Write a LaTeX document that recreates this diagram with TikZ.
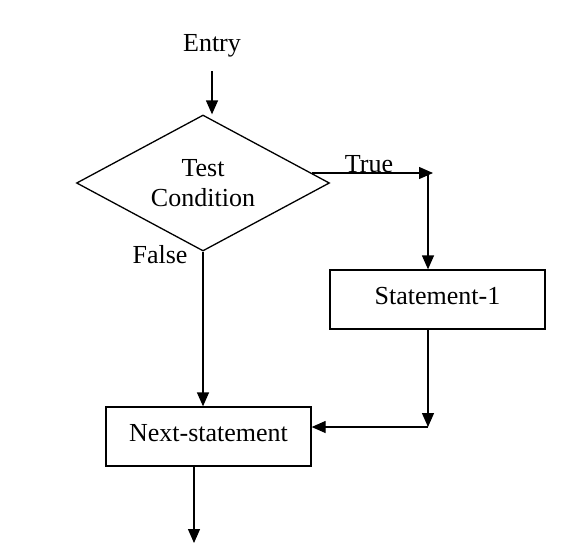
\documentclass[tikz,border=0pt]{standalone}
\usepackage{fontspec}
\setmainfont{Liberation Serif}
\usetikzlibrary{shapes.geometric,arrows.meta}
\begin{document}
\begin{tikzpicture}[x=1pt,y=-1pt,line width=1.3pt,>={Triangle[length=14pt,width=12pt]},
		txt/.style={font=\fontsize{26}{30}\selectfont,align=center},
		box/.style={draw,rectangle,inner sep=0pt,minimum height=59pt,text depth=8pt}]
			\useasboundingbox (0,0) rectangle (578,558);
			\node[txt] (entry) at (212,46) {Entry};
			\node[txt,draw,diamond,aspect=1.86,inner sep=0pt,minimum width=253pt,minimum height=136pt] (cond) at (203,183) {Test\\Condition};
			\node[txt,box,minimum width=215pt] (stmt) at (437.5,299.5) {Statement-1};
			\node[txt,box,minimum width=205pt] (next) at (208.5,436.5) {Next-statement};
			\node[txt] (truelbl) at (369,164) {True};
			\node[txt] (falselbl) at (160,255) {False};
			\coordinate (trueend) at (433,173);
			\coordinate (turn) at (428,173);
			\coordinate (join) at (428,427);
			\coordinate (exit) at (194,543);
			\draw[->] ([yshift=-10pt]entry.south) -- (entry.south |- cond.north);
			\draw[->] (cond.5 |- trueend) -- (trueend);
			\draw[->] (turn) -- (turn |- stmt.north);
			\draw[->] (stmt.south -| turn) -- (join);
			\draw[->] (join) -- (next.east |- join);
			\draw[->] (cond.south) -- (cond.south |- next.north);
			\draw[->] (next.south -| exit) -- (exit);
	\end{tikzpicture}
\end{document}
